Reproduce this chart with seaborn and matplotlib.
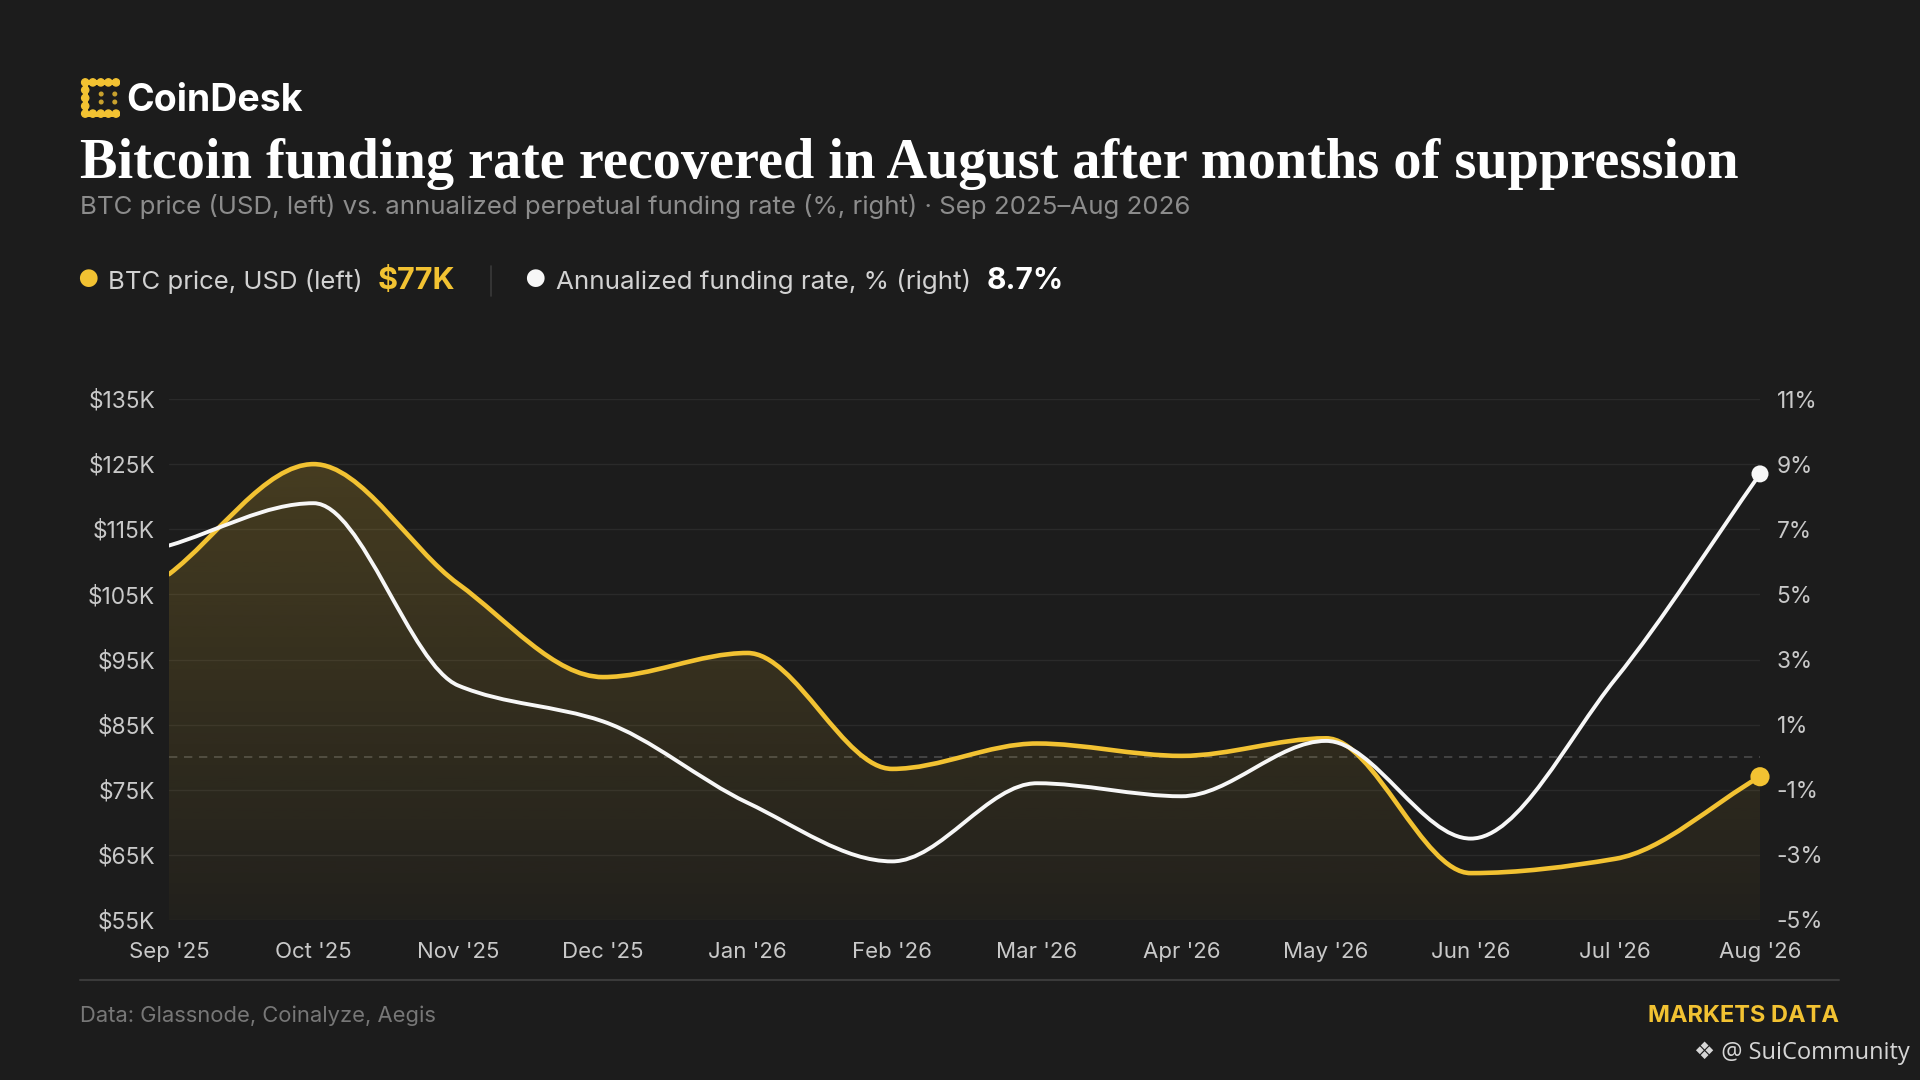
import numpy as np
import pandas as pd
import seaborn as sns
import matplotlib.pyplot as plt
from matplotlib.path import Path
from matplotlib.patches import PathPatch, Circle
from matplotlib.lines import Line2D

# data (monthly)
months = ["Sep '25", "Oct '25", "Nov '25", "Dec '25", "Jan '26", "Feb '26",
          "Mar '26", "Apr '26", "May '26", "Jun '26", "Jul '26", "Aug '26"]
btc_price_k = [108.1, 125.0, 106.6, 92.3, 96.0, 78.2, 82.1, 80.2, 82.9, 62.2, 64.4, 77.0]
funding_pct = [6.5, 7.8, 2.2, 1.1, -1.4, -3.2, -0.8, -1.2, 0.5, -2.5, 2.4, 8.7]

left_ticks = [55, 65, 75, 85, 95, 105, 115, 125, 135]
right_ticks = [-5, -3, -1, 1, 3, 5, 7, 9, 11]

df = pd.DataFrame({"month": months, "i": range(len(months)),
                   "btc": btc_price_k, "funding": funding_pct})

BG = "#1c1c1c"
YEL = "#f2c232"
WHITE = "#f7f7f7"
TICK = "#c9c9c9"
GRID = "#2a2a2a"

sns.set_theme(style="dark", rc={"figure.facecolor": BG, "axes.facecolor": BG,
                                "savefig.facecolor": BG})
plt.rcParams["font.family"] = ["Inter", "DejaVu Sans"]

W, H = 1920, 1080


def fx(px):
    return px / W


def fy(py):
    return 1 - py / H


def monotone_path(x, y):
    # smooth monotone curve through the points (cubic hermite as bezier)
    x = np.asarray(x, float)
    y = np.asarray(y, float)
    d = np.diff(y) / np.diff(x)
    m = np.zeros_like(y)
    m[0], m[-1] = d[0], d[-1]
    for k in range(1, len(y) - 1):
        if d[k - 1] * d[k] > 0:
            m[k] = 2 / (1 / d[k - 1] + 1 / d[k])
    verts = [(x[0], y[0])]
    codes = [Path.MOVETO]
    for k in range(len(x) - 1):
        h = x[k + 1] - x[k]
        verts += [(x[k] + h / 3, y[k] + m[k] * h / 3),
                  (x[k + 1] - h / 3, y[k + 1] - m[k + 1] * h / 3),
                  (x[k + 1], y[k + 1])]
        codes += [Path.CURVE4] * 3
    return verts, codes


fig = plt.figure(figsize=(19.2, 10.8), dpi=100)
ax = fig.add_axes([fx(169), fy(920), fx(1760) - fx(169), fy(399) - fy(920)])
ax2 = ax.twinx()

ax.set_xlim(0, len(months) - 1)
ax.set_ylim(55, 135)
ax2.set_ylim(-5, 11)

# grid
for v in left_ticks:
    ax.axhline(v, color=GRID, lw=1.0, zorder=0)
ax.axhline(80, color="#4a4a4a", lw=1.2, ls=(0, (5, 4)), zorder=1)

# btc curve + gradient fill
bv, bc = monotone_path(df["i"], df["btc"])
fill_path = Path(bv + [(len(months) - 1, 55), (0, 55), (0, 55)],
                 bc + [Path.LINETO, Path.LINETO, Path.CLOSEPOLY])
clip = PathPatch(fill_path, transform=ax.transData, facecolor="none", edgecolor="none")
ax.add_patch(clip)
grad = np.zeros((256, 1, 4))
grad[..., :3] = plt.matplotlib.colors.to_rgb(YEL)
grad[:, 0, 3] = np.linspace(0.03, 0.22, 256)
img = ax.imshow(grad, extent=[0, len(months) - 1, 55, 135], origin="lower",
                aspect="auto", zorder=1)
img.set_clip_path(clip)
ax.add_patch(PathPatch(Path(bv, bc), facecolor="none", edgecolor=YEL, lw=3.3,
                       capstyle="round", zorder=3))

# funding curve
fv, fc = monotone_path(df["i"], df["funding"])
ax2.add_patch(PathPatch(Path(fv, fc), facecolor="none", edgecolor=WHITE, lw=2.8,
                        capstyle="round", zorder=3))

last = df.iloc[[-1]]
sns.scatterplot(data=last, x="i", y="btc", ax=ax, color=YEL, s=190,
                edgecolor="none", zorder=5, clip_on=False, legend=False)
sns.scatterplot(data=last, x="i", y="funding", ax=ax2, color=WHITE, s=150,
                edgecolor="none", zorder=5, clip_on=False, legend=False)

ax.set_xticks(df["i"])
ax.set_xticklabels(months)
ax.set_yticks(left_ticks)
ax.set_yticklabels([f"${v}K" for v in left_ticks])
ax2.set_yticks(right_ticks)
ax2.set_yticklabels([f"{v}%" for v in right_ticks])
ax.set_xlabel("")
ax.set_ylabel("")
ax2.set_xlabel("")
ax2.set_ylabel("")
ax.tick_params(axis="x", length=0, pad=16, labelsize=16, labelcolor=TICK)
ax.tick_params(axis="y", length=0, pad=10, labelsize=16.3, labelcolor=TICK)
ax2.tick_params(axis="y", length=0, pad=12, labelsize=16.3, labelcolor=TICK)
ax.grid(False)
ax2.grid(False)
for a in (ax, ax2):
    for s in a.spines.values():
        s.set_visible(False)
ax2.patch.set_visible(False)

# logo
lax = fig.add_axes([fx(80), fy(118), fx(40), fy(78) - fy(118)])
lax.set_xlim(0, 10)
lax.set_ylim(0, 10)
lax.axis("off")
lax.plot([9.2, 1.3, 1.3, 9.2], [8.9, 8.9, 1.1, 1.1], color=YEL, lw=3.6,
         solid_capstyle="round", solid_joinstyle="round")
for cx, cy in [(1.3, 8.9), (1.3, 1.1), (9.0, 8.9), (9.0, 1.1), (1.3, 5.0), (1.3, 7.0),
               (1.3, 3.0), (5.2, 8.9), (5.2, 1.1), (3.2, 8.9), (3.2, 1.1), (7.1, 8.9), (7.1, 1.1)]:
    lax.add_patch(Circle((cx, cy), 0.9, color=YEL))
for cx, cy in [(5.3, 6.0), (5.3, 4.0), (8.7, 6.0), (8.7, 4.0)]:
    lax.add_patch(Circle((cx, cy), 0.45, color="#c9a22e"))
fig.text(fx(126), fy(101), "CoinDesk", color="white", fontsize=27, fontweight="bold",
         va="center", ha="left")

# title, scaled to the reference width
title = fig.text(fx(80), fy(178), "Bitcoin funding rate recovered in August after months of suppression",
                 color="white", fontsize=44, fontweight="bold",
                 family=["Liberation Serif", "DejaVu Serif"], va="baseline", ha="left")
r = fig.canvas.get_renderer()
bw = title.get_window_extent(r).width
title.set_fontsize(44 * 1657 / bw)

fig.text(fx(80), fy(214), "BTC price (USD, left) vs. annualized perpetual funding rate (%, right) · Sep 2025–Aug 2026",
         color="#8c8c8c", fontsize=18.6, va="baseline", ha="left")

# legend row
ly = fy(281)
fig.text(fx(88), ly, "●", color=YEL, fontsize=17, va="center", ha="center")
fig.text(fx(108), ly, "BTC price, USD (left)", color="#d2d2d2", fontsize=18.5, va="center")
fig.text(fx(378), ly, "$77K", color=YEL, fontsize=22, fontweight="bold", va="center")
fig.add_artist(Line2D([fx(491), fx(491)], [fy(266), fy(296)], color="#3a3a3a", lw=1.2))
fig.text(fx(535), ly, "●", color=WHITE, fontsize=17, va="center", ha="center")
fig.text(fx(556), ly, "Annualized funding rate, % (right)", color="#d2d2d2", fontsize=18.7, va="center")
fig.text(fx(987), ly, "8.7%", color="white", fontsize=21.5, fontweight="bold", va="center")

# footer
fig.add_artist(Line2D([fx(80), fx(1839)], [fy(980), fy(980)], color="#3a3a3a", lw=1.5))
fig.text(fx(80), fy(1016), "Data: Glassnode, Coinalyze, Aegis", color="#777777",
         fontsize=15.8, va="center")
fig.text(fx(1839), fy(1016), "MARKETS DATA", color=YEL, fontsize=17, fontweight="bold",
         va="center", ha="right")
fig.text(fx(1910), fy(1053), "❖ @ SuiCommunity", color="#d6d6d6", fontsize=17,
         family=["Open Sans", "DejaVu Sans"], va="center", ha="right")

fig.savefig("out.png", dpi=100)
